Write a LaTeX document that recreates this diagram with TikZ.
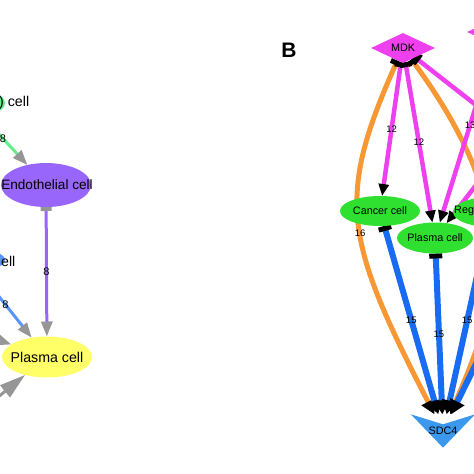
\documentclass[tikz,border=0pt]{standalone}
\usepackage{fontspec}
\setmainfont{Liberation Sans}
\usetikzlibrary{arrows.meta,backgrounds,calc,shapes.geometric}
\definecolor{ligpink}{RGB}{238,64,238}
\definecolor{secorange}{RGB}{248,152,52}
\definecolor{recblue}{RGB}{24,108,242}
\definecolor{cellgreen}{RGB}{48,224,48}
\definecolor{sdcblue}{RGB}{60,152,236}
\definecolor{endopurple}{RGB}{152,102,250}
\definecolor{plasmayellow}{RGB}{255,255,104}
\definecolor{tgreen}{RGB}{104,236,142}
\definecolor{bblue}{RGB}{90,150,250}
\definecolor{tipgray}{RGB}{150,150,150}

\begin{document}
\begin{tikzpicture}[x=1pt,y=-1pt,
  cell/.style={ellipse,inner sep=0pt,outer sep=0pt},
  lig/.style={diamond,aspect=2.13,inner sep=0pt,minimum width=64pt,minimum height=30pt,fill=ligpink,font=\fontsize{10.8}{12}\selectfont},
  rec/.style={rectangle,inner sep=0pt,minimum width=64pt,minimum height=33pt,font=\fontsize{10.8}{12}\selectfont},
  every label/.style={inner sep=0pt,text=black},
  bigname/.style={font=\fontsize{14.2}{16}\selectfont},
  smallname/.style={font=\fontsize{10.8}{12}\selectfont},
  wlab/.style={font=\fontsize{9.5}{10}\selectfont,inner sep=0pt,text=black},
  wlabbig/.style={font=\fontsize{11}{12}\selectfont,inner sep=0pt,text=black},
  grayedge/.style={line width=3pt,arrows={Rectangle[length=4pt,width=11pt,color=tipgray]-Triangle[length=15pt,width=11pt,color=tipgray]}},
  pinkedge/.style={ligpink,line width=4.5pt,arrows={Rectangle[length=5pt,width=12pt,color=black]-Triangle[length=12pt,width=10pt,color=black]}},
  orangeedge/.style={secorange,line width=5pt,arrows={Rectangle[length=5pt,width=12pt,color=black]-Triangle[length=14pt,width=14pt,color=black]}},
  blueedge/.style={recblue,line width=6pt,arrows={Rectangle[length=5pt,width=13pt,color=black]-Triangle[length=14pt,width=15pt,color=black]}}
]
\useasboundingbox (0,0) rectangle (474,474);
\clip (0,0) rectangle (474,474);
% ================= left: partial network =================
\node[cell,fill=tgreen,minimum width=70pt,minimum height=30pt] (tcell) at (-30,103) {};
\node[anchor=west,bigname,inner sep=0pt] (tcelltxt) at (-1,103) {) cell};
\node[cell,fill=bblue,minimum width=70pt,minimum height=24pt] (bcell) at (-30,260) {};
\node[anchor=west,bigname,inner sep=0pt] (bcelltxt) at (1,261) {ell};
\node[cell,fill=endopurple,minimum width=90pt,minimum height=44pt,label={[font=\fontsize{13.6}{16}\selectfont,xshift=1pt]center:Endothelial cell}] (endo) at (46,185) {};
\node[cell,fill=plasmayellow,minimum width=90pt,minimum height=41pt,label={[bigname]center:Plasma cell}] (plasmaL) at (47,357) {};
\coordinate (inA) at (-30,330);
\coordinate (inB) at (-30,420);
\begin{scope}[on background layer]
\draw[grayedge,tgreen] (tcell) -- node[wlabbig,pos=0.45] {8} (endo);
\draw[grayedge,endopurple] (endo) -- node[wlabbig] {8} (plasmaL);
\draw[grayedge,bblue] (bcell) -- node[wlabbig] {8} (plasmaL);
\draw[grayedge,tipgray] (inA) -- (plasmaL);
\draw[line width=3pt,tipgray,arrows=-{Triangle[length=26pt,width=15pt,color=tipgray]}] (inB) -- (plasmaL);
\end{scope}
% ================= right: MDK / SDC4 network =================
\node[font=\bfseries\fontsize{21}{24}\selectfont] (panelB) at (289,50) {B};
\node[lig] (mdk) at (403,48) {MDK};
\node[lig] (mdk2) at (499,32) {};
\node[cell,fill=cellgreen,minimum width=80pt,minimum height=30pt,label={[smallname]center:Cancer cell}] (cancer) at (380,211) {};
\node[cell,fill=cellgreen,minimum width=76pt,minimum height=31pt,label={[smallname]center:Plasma cell}] (plasmaR) at (435,238) {};
\node[cell,fill=cellgreen,minimum width=76pt,minimum height=30pt] (reg) at (491,212) {};
\node[anchor=west,smallname,inner sep=0pt] (regtxt) at (454,211) {Reg};
\node[rec] (sdc4) at (443,431) {SDC4};
\coordinate (offmk) at (550,163);
\coordinate (offpk) at (515,135);
\coordinate (offbl) at (500,315);
\begin{scope}[on background layer]
\fill[sdcblue] (sdc4.north west) -- ($(sdc4.north)+(0,10)$) -- (sdc4.north east) -- (sdc4.south) -- cycle;
\draw[orangeedge] (mdk) .. controls (335,200) and (345,240) .. node[wlab,pos=0.53] {16} (sdc4);
\draw[orangeedge] (mdk) .. controls (530,220) and (495,310) .. (sdc4);
\draw[pinkedge] (mdk) -- node[wlab] {12} (cancer);
\draw[pinkedge] (mdk) -- node[wlab] {12} (plasmaR);
\draw[pinkedge] (mdk) -- (offmk);
\draw[pinkedge] (mdk2) -- node[wlab,pos=0.45] {13} (plasmaR);
\draw[pinkedge] (offpk) -- (plasmaR);
\draw[blueedge] (cancer) -- node[wlab] {15} (sdc4);
\draw[blueedge] (plasmaR) -- node[wlab] {15} (sdc4);
\draw[blueedge] (reg) -- node[wlab] {15} (sdc4);
\draw[blueedge] (offbl) -- (sdc4);
\end{scope}
\end{tikzpicture}
\end{document}
